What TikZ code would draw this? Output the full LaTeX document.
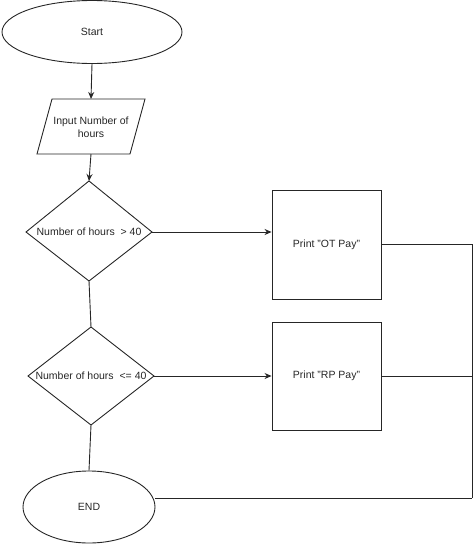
\documentclass[tikz,border=0pt]{standalone}
\usepackage{fontspec}
\setmainfont{Liberation Sans}
\usetikzlibrary{shapes.geometric,arrows.meta}
\begin{document}
\begin{tikzpicture}[x=1pt,y=-1pt,
  shapeline/.style={draw=black!85, line width=0.9pt},
  txt/.style={font=\fontsize{10.5}{13}\selectfont, text=black!85, inner sep=0pt, align=center},
  conn/.style={draw=black!85, line width=0.9pt},
  arr/.style={conn, -{Stealth[length=7pt,width=6pt]}},
  term/.style={shapeline, ellipse, inner sep=0pt, font=\fontsize{10.5}{13}\selectfont, text=black!85},
  procbox/.style={shapeline, rectangle, inner sep=0pt, font=\fontsize{10.5}{13}\selectfont, text=black!85}
]
\useasboundingbox (0,0) rectangle (474,544);
% Start
\node[term, minimum width=180pt, minimum height=63pt] (start) at (92,32) {Start};
% Input parallelogram
\coordinate (p1) at (52,99); \coordinate (p2) at (145,99);
\coordinate (p3) at (130,154); \coordinate (p4) at (37,154);
\draw[shapeline] (p1) -- (p2) -- (p3) -- (p4) -- cycle;
\node[txt] (inp) at (91,127) {Input Number of\\hours};
\coordinate (inptop) at (91,99);
\coordinate (inpbot) at (91,154);
% Diamond 1
\coordinate (d1t) at (89,181); \coordinate (d1r) at (152,232);
\coordinate (d1b) at (89,281); \coordinate (d1l) at (26,232);
\draw[shapeline] (d1t) -- (d1r) -- (d1b) -- (d1l) -- cycle;
\node[txt] (d1) at (89,232) {Number of hours\ \ > 40};
% Diamond 2
\coordinate (d2t) at (91,327); \coordinate (d2r) at (154,376);
\coordinate (d2b) at (91,425); \coordinate (d2l) at (28,376);
\draw[shapeline] (d2t) -- (d2r) -- (d2b) -- (d2l) -- cycle;
\node[txt] (d2) at (91,376) {Number of hours\ \ <= 40};
% Print boxes
\node[procbox, minimum width=109pt, minimum height=109pt] (ot) at (326.5,244.5) {Print "OT Pay"};
\node[procbox, minimum width=109pt, minimum height=108pt] (rp) at (326.5,376) {Print "RP Pay"};
% END
\node[term, minimum width=132pt, minimum height=72pt] (end) at (89,507) {END};
% Connectors
\draw[arr] (start.south) -- (inptop);
\draw[arr] (inpbot) -- (d1t);
\draw[arr] (d1r) -- (d1r -| ot.west);
\draw[conn] (d1b) -- (d2t);
\draw[arr] (d2r) -- (rp.west);
\draw[conn] (d2b) -- (end.north);
\coordinate (rj) at (472,498);
\draw[conn] (ot.east) -| (rj);
\draw[conn] (rp.east) -- (rp.east -| rj);
\draw[conn] (rj) -- (end.east |- rj);
\end{tikzpicture}
\end{document}
